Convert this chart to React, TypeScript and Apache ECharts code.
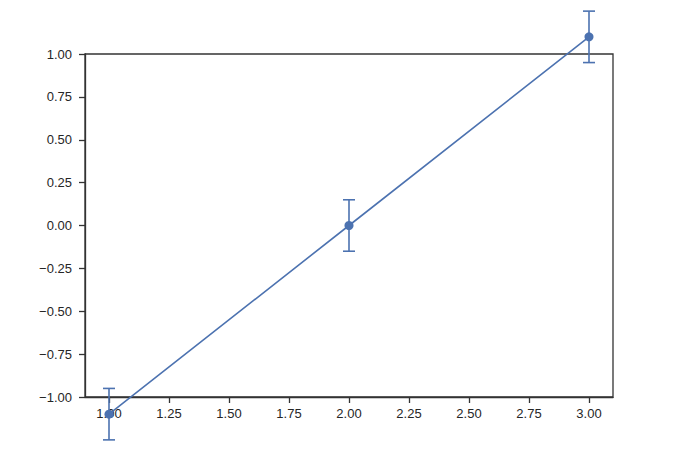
import React, { useEffect, useRef } from "react";
import * as echarts from "echarts";

const xValues = [1, 2, 3];
const yValues = [-1.1, 0.0, 1.1];
const yErrors = [0.15, 0.15, 0.15];
const xTicks = [1.0, 1.25, 1.5, 1.75, 2.0, 2.25, 2.5, 2.75, 3.0];

const COLOR = "#4c72b0";
const AXIS = "#333333";
const FONT = "Liberation Sans";

export default function App() {
  const ref = useRef<HTMLDivElement>(null);
  useEffect(() => {
    if (!ref.current) return;
    const chart = echarts.init(ref.current, undefined, { renderer: "svg" });
    const fmt = (v: number) => (v < 0 ? "\u2212" : "") + Math.abs(v).toFixed(2);
    const errData = xValues.map((x, i) => [x, yValues[i] - yErrors[i], yValues[i] + yErrors[i]]);
    chart.setOption({
      animation: false,
      backgroundColor: "#ffffff",
      grid: {
        left: 85,
        right: 69,
        top: 54,
        bottom: 57,
        show: true,
        borderColor: AXIS,
        borderWidth: 1.3,
        backgroundColor: "transparent",
      },
      xAxis: {
        type: "value",
        min: 0.9,
        max: 3.1,
        splitLine: { show: false },
        axisLine: { show: true, onZero: false, lineStyle: { color: AXIS, width: 1.3 } },
        axisTick: { show: true, length: 6, customValues: xTicks, lineStyle: { color: AXIS, width: 1.3 } },
        axisLabel: {
          customValues: xTicks,
          formatter: fmt,
          color: "#262626",
          fontFamily: FONT,
          fontSize: 13,
          margin: 10,
        },
      },
      yAxis: {
        type: "value",
        min: -1,
        max: 1,
        interval: 0.25,
        splitLine: { show: false },
        axisLine: { show: true, onZero: false, lineStyle: { color: AXIS, width: 1.3 } },
        axisTick: { show: true, length: 6, lineStyle: { color: AXIS, width: 1.3 } },
        axisLabel: {
          formatter: fmt,
          color: "#262626",
          fontFamily: FONT,
          fontSize: 13,
          margin: 13,
        },
      },
      series: [
        {
          type: "custom",
          clip: false,
          z: 3,
          data: errData,
          renderItem: (params: any, api: any) => {
            const x = api.value(0);
            const lo = api.coord([x, api.value(1)]);
            const hi = api.coord([x, api.value(2)]);
            const half = 6;
            const style = { stroke: COLOR, lineWidth: 1.6 };
            return {
              type: "group",
              children: [
                { type: "line", shape: { x1: lo[0], y1: lo[1], x2: hi[0], y2: hi[1] }, style },
                { type: "line", shape: { x1: lo[0] - half, y1: lo[1], x2: lo[0] + half, y2: lo[1] }, style },
                { type: "line", shape: { x1: hi[0] - half, y1: hi[1], x2: hi[0] + half, y2: hi[1] }, style },
              ],
            };
          },
        },
        {
          type: "line",
          clip: false,
          z: 4,
          data: xValues.map((x, i) => [x, yValues[i]]),
          symbol: "circle",
          symbolSize: 9,
          lineStyle: { color: COLOR, width: 1.6 },
          itemStyle: { color: COLOR },
        },
      ],
    });
    return () => chart.dispose();
  }, []);
  return <div ref={ref} style={{ width: 682, height: 454, position: "absolute", left: 0, top: 0 }} />;
}
